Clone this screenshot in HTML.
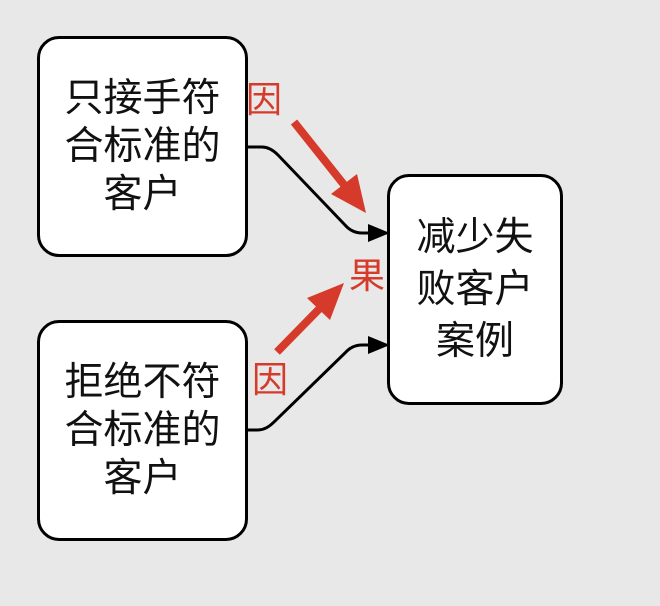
<!DOCTYPE html>
<html><head><meta charset="utf-8"><style>
html,body{margin:0;padding:0;}
body{width:660px;height:606px;background:#e8e8e8;position:relative;overflow:hidden;font-family:"Liberation Sans","Noto Sans CJK SC",sans-serif;}
.box{position:absolute;background:#fff;border:3px solid #000;border-radius:22px;box-sizing:border-box;display:flex;align-items:center;justify-content:center;text-align:center;font-size:39px;line-height:48px;color:#111;}
.r{position:absolute;color:#d63a2a;font-size:36px;line-height:36px;}
</style></head><body>
<svg width="660" height="606" style="position:absolute;left:0;top:0">
<g fill="none" stroke="#000" stroke-width="3">
<path d="M247 147 L262 147 Q270 147 278 155 L345 225 Q352 233 362 233 L372 233"/>
<path d="M247 430 L258 430 Q266 430 274 422 L345 353 Q352 345 362 345 L372 345"/>
</g>
<polygon points="390,233 368,224 368,242" fill="#000"/>
<polygon points="390,345 368,336 368,354" fill="#000"/>
<g stroke="#d63a2a" stroke-width="8" fill="#d63a2a">
<line x1="294" y1="122" x2="345" y2="186"/>
<line x1="277" y1="352" x2="324" y2="304"/>
</g>
<polygon points="366,213 331,194 357,174" fill="#d63a2a"/>
<polygon points="344,283 330,320 307,298" fill="#d63a2a"/>
</svg>
<div class="box" style="left:37px;top:36px;width:211px;height:221px;">只接手符<br>合标准的<br>客户</div>
<div class="box" style="left:37px;top:320px;width:211px;height:221px;">拒绝不符<br>合标准的<br>客户</div>
<div class="box" style="left:387px;top:174px;width:176px;height:231px;line-height:52px;">减少失<br>败客户<br>案例</div>
<div class="r" style="left:246px;top:82px;">因</div>
<div class="r" style="left:252px;top:362px;">因</div>
<div class="r" style="left:349px;top:258px;">果</div>
</body></html>
